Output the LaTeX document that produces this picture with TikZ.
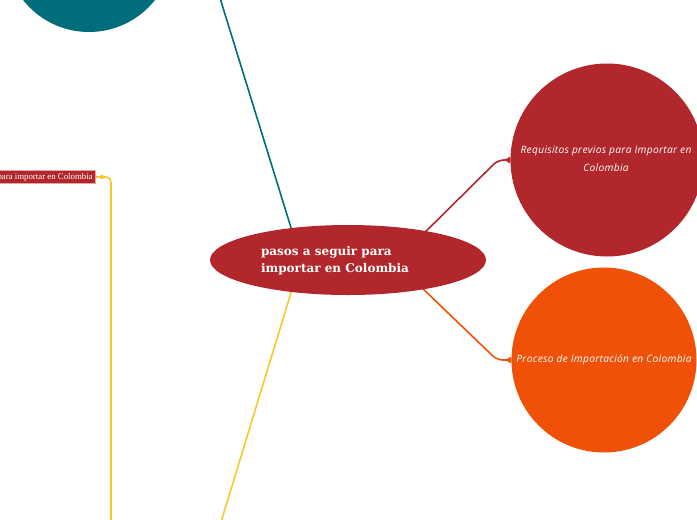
\documentclass[tikz,border=0pt]{standalone}
\usepackage{fontspec}
\setmainfont{Liberation Serif}
\newfontfamily\slabfont{DejaVu Serif}
\newfontfamily\handfont[LetterSpace=3]{Open Sans}
\usetikzlibrary{shapes.geometric}
\definecolor{cred}{HTML}{B1272B}
\definecolor{corange}{HTML}{EF5109}
\definecolor{cteal}{HTML}{006D7B}
\definecolor{cyellow}{HTML}{F8C82D}
\definecolor{cpink}{HTML}{E8A3A3}
\tikzset{
  conn/.style={line width=1.6pt},
  bigcircle/.style={circle, inner sep=0pt, text=white, align=center},
  circtext/.style={text=white, align=center, font=\handfont\itshape\fontsize{10.2}{18}\selectfont},
}
\begin{document}
\begin{tikzpicture}[x=1pt,y=-1pt]
\useasboundingbox (0,0) rectangle (697,520);
\begin{scope}
\clip (0,0) rectangle (697,520);
% hubs and free ends
\coordinate (hubL) at (301,260);
\coordinate (tealEnd) at (220,-2);
\coordinate (yellowEnd) at (221,522);
\coordinate (hubR) at (397,260);
\coordinate (hubO) at (393,260);
\coordinate (ybottom) at (111,522);
% teal circle
\node[bigcircle, fill=cteal, minimum size=168pt] (teal) at (89,-52) {};
% connectors
\draw[conn, cteal] (tealEnd) -- (hubL);
\draw[conn, cyellow] (yellowEnd) -- (hubL);
% left box
\node[fill=cred, draw=cpink, line width=0.8pt, text=white, inner xsep=3pt, inner ysep=2.2pt,
      font=\fontsize{8.8}{10}\selectfont, anchor=east] (box) at (96,177) {para importar en Colombia};
\draw[conn, cyellow, rounded corners=5pt] (ybottom) -- (111,177) -- (box.east);
\fill[cyellow] (box.east) ++(1,0) -- ++(6,-2.5) -- ++(0,5) -- cycle;
% right circles
\node[bigcircle, fill=cred, minimum size=193pt] (req) at (607,160) {};
\node[circtext] (reqtext) at (606,159) {Requisitos previos para Importar en\\Colombia};
\node[bigcircle, fill=corange, minimum size=185pt] (proc) at (604,360) {};
\node[circtext] (proctext) at (604,360) {Proceso de Importación en Colombia};
\draw[conn, cred, rounded corners=6pt] (hubR) -- (498,160) -- (req.west);
\fill[cred] (req.west) ++(-6,0) -- ++(6,-3.5) -- ++(0,7) -- cycle;
\draw[conn, corange, rounded corners=6pt] (hubO) -- (497,360) -- (proc.west);
\fill[corange] (proc.west) ++(-6,0) -- ++(6,-3.5) -- ++(0,7) -- cycle;
% central ellipse
\node[ellipse, fill=cred, minimum width=276pt, minimum height=70pt, inner sep=0pt] (main) at (348,260) {};
\node[text=white, align=left, font=\slabfont\bfseries\fontsize{12}{17}\selectfont] (maintext) at (335,261) {pasos a seguir para\\importar en Colombia};
\end{scope}
\end{tikzpicture}
\end{document}
